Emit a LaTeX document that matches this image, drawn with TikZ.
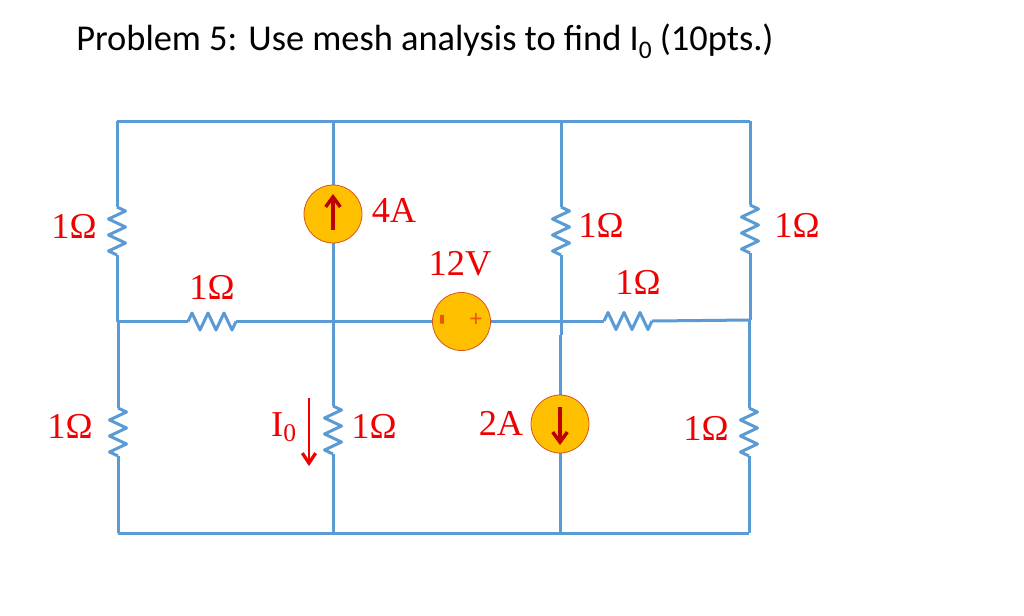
\documentclass[tikz,border=0pt]{standalone}
\usepackage{fontspec}
\setmainfont{Liberation Serif}
\newfontfamily\titlefont{Carlito}
\newfontfamily\signfont{Liberation Sans}
\usetikzlibrary{arrows.meta}
\definecolor{wirecol}{HTML}{5B9BD5}
\definecolor{srcfill}{HTML}{FFC000}
\definecolor{srcedge}{HTML}{D9531E}
\definecolor{arrowdark}{HTML}{C00000}
\definecolor{labelred}{HTML}{F00000}
\definecolor{signcol}{HTML}{E8560F}
\tikzset{
  wire/.style={draw=wirecol,line width=2.25pt,line join=round},
  resline/.style={draw=wirecol,line width=2.25pt,line join=round},
  source/.style={circle,draw=srcedge,fill=srcfill,line width=0.6pt,minimum size=43.5pt,inner sep=0pt},
  lab/.style={text=labelred,anchor=base,inner sep=0pt,font=\fontsize{27.3}{30}\selectfont},
  sign/.style={text=signcol,inner sep=0pt,font=\signfont\fontsize{17}{18}\selectfont},
  cur/.style={draw=arrowdark,line width=3pt,-{Straight Barb[length=7.5pt,width=11pt,line width=2.6pt]}},
  ioarrow/.style={draw=labelred,line width=2.2pt,-{Straight Barb[length=7.5pt,width=10pt,line width=2.4pt]}},
  res/.pic={\draw[resline] (-24,0) -- (-20,-8.5) -- (-12,8.5) -- (-4,-8.5) -- (4,8.5) -- (12,-8.5) -- (20,8.5) -- (24,0);}
}
\begin{document}
\begin{tikzpicture}[x=0.75pt,y=-0.75pt]
\useasboundingbox (0,0) rectangle (1024,615);
% junctions
\coordinate (tl) at (117,121);
\coordinate (ta) at (333,121);
\coordinate (tb) at (561,121);
\coordinate (tr) at (750,121);
\coordinate (ml) at (117,321.5);
\coordinate (ma) at (333,321.5);
\coordinate (mb) at (561,321.5);
\coordinate (mb2) at (561,335);
\coordinate (mb3) at (560,335);
\coordinate (mr) at (750,320);
\coordinate (bl) at (118,533);
\coordinate (ba) at (333,533);
\coordinate (bb) at (560,533);
\coordinate (br) at (749,533);
\coordinate (ml2) at (118,321.5);
\coordinate (mr2) at (749,320);
% resistor terminals
\coordinate (r1t) at (117,207); \coordinate (r1b) at (117,255);
\coordinate (r2t) at (118,408); \coordinate (r2b) at (118,456);
\coordinate (r3l) at (188,321.5); \coordinate (r3r) at (236,321.5);
\coordinate (r4t) at (333,406); \coordinate (r4b) at (333,454);
\coordinate (r5t) at (561,207); \coordinate (r5b) at (561,255);
\coordinate (r6l) at (604,321.5); \coordinate (r6r) at (652,321);
\coordinate (r7t) at (750,205); \coordinate (r7b) at (750,253);
\coordinate (r8t) at (749,408); \coordinate (r8b) at (749,456);
% wires
\draw[wire] (tl) -- (tr);
\draw[wire] (tl) -- (r1t);
\draw[wire] (r1b) -- (ml);
\draw[wire] (ml2) -- (r2t);
\draw[wire] (r2b) -- (bl);
\draw[wire] (bl) -- (br);
\draw[wire] (ta) -- (r4t);
\draw[wire] (r4b) -- (ba);
\draw[wire] (tb) -- (r5t);
\draw[wire] (r5b) -- (mb2);
\draw[wire] (mb3) -- (bb);
\draw[wire] (tr) -- (r7t);
\draw[wire] (r7b) -- (mr);
\draw[wire] (mr2) -- (r8t);
\draw[wire] (r8b) -- (br);
\draw[wire] (ml) -- (r3l);
\draw[wire] (r3r) -- (mb);
\draw[wire] (mb) -- (r6l);
\draw[wire] (r6r) -- (mr);
% resistors
\pic at (117,231) [rotate=-90] {res};
\pic at (118,432) [rotate=-90] {res};
\pic at (212,321.5) {res};
\pic at (333,430) [rotate=-90] {res};
\pic at (561,231) [rotate=-90] {res};
\pic at (628,321) {res};
\pic at (750,229) [rotate=-90] {res};
\pic at (749,432) [rotate=-90] {res};
% sources
\node[source] (s4) at (333,214) {};
\node[source] (s12) at (461.5,321.5) {};
\node[source] (s2) at (560,424) {};
\draw[cur] (333,230) -- (333,194);
\draw[cur] (560,407) -- (560,445);
\node[sign,rotate=90,font=\signfont\bfseries\fontsize{26}{28}\selectfont] (minus) at (446,320) {-};
\node[sign] (plus) at (476,320) {+};
\draw[ioarrow] (309,398) -- (309,466);
% labels
\node[lab] (l1) at (74,238) {1Ω};
\node[lab] (l2) at (394,222) {4A};
\node[lab] (l3) at (460,275) {12V};
\node[lab] (l4) at (212,299) {1Ω};
\node[lab] (l5) at (601,237) {1Ω};
\node[lab] (l6) at (797,237) {1Ω};
\node[lab] (l7) at (638,294) {1Ω};
\node[lab] (l8) at (70,438) {1Ω};
\node[lab] (l9) at (284,436) {I\textsubscript{0}};
\node[lab] (l10) at (374,438) {1Ω};
\node[lab] (l11) at (501,435) {2A};
\node[lab] (l12) at (706,440) {1Ω};
\node[anchor=base west,inner sep=0pt,font=\titlefont\fontsize{27.3}{30}\selectfont] (title) at (76,50) {Problem 5: Use mesh analysis to find I\raisebox{-6pt}{\fontsize{19}{20}\selectfont 0} (10pts.)};
\end{tikzpicture}
\end{document}
